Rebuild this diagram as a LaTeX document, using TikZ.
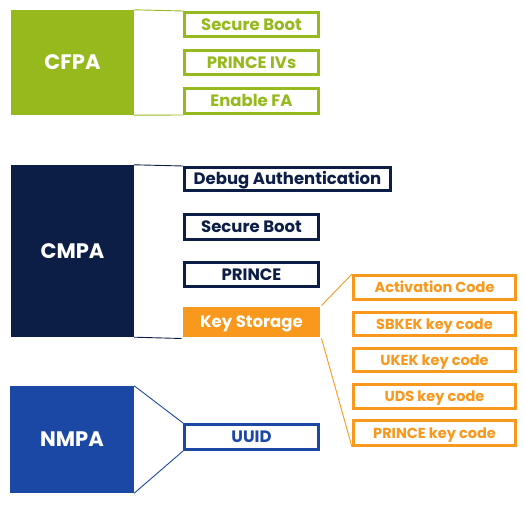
\documentclass[tikz,border=0pt]{standalone}
\usepackage{fontspec}
\setmainfont{Poppins}
\definecolor{cgreen}{RGB}{150,185,30}
\definecolor{cnavy}{RGB}{12,30,70}
\definecolor{cblue}{RGB}{28,72,165}
\definecolor{corange}{RGB}{248,152,29}
\begin{document}
\begin{tikzpicture}[x=1pt,y=-1pt,
  group/.style={rectangle, inner sep=0pt, text=white, text height=14.5pt, text depth=0pt, font=\bfseries\fontsize{21}{21}\selectfont},
  item/.style={rectangle, draw, line width=3pt, fill=white, inner sep=0pt, minimum height=24pt, text height=11.5pt, text depth=0pt, font=\bfseries\fontsize{16.5}{16.5}\selectfont},
  sub/.style={item, draw=corange, text=corange, minimum width=162pt, text height=10pt, font=\bfseries\fontsize{14.5}{14.5}\selectfont},
  link/.style={line width=0.9pt}]
\useasboundingbox (0,0) rectangle (523,529);
% CFPA
\node[group, fill=cgreen, minimum width=123pt, minimum height=105pt] (cfpa) at (72.5,62.5) {CFPA};
\node[item, draw=cgreen, text=cgreen, minimum width=134pt] (cf1) at (251.5,24.5) {Secure Boot};
\node[item, draw=cgreen, text=cgreen, minimum width=134pt] (cf2) at (251.5,62.5) {PRINCE IVs};
\node[item, draw=cgreen, text=cgreen, minimum width=134pt, minimum height=25pt] (cf3) at (251.5,101) {Enable FA};
\draw[link, cgreen] (cfpa.north east) -- (cf1.north west);
\draw[link, cgreen] (cfpa.south east) -- (cf3.south west);
% CMPA
\node[group, fill=cnavy, minimum width=123pt, minimum height=172pt] (cmpa) at (72.5,251) {CMPA};
\node[item, draw=cnavy, text=cnavy, minimum width=206pt, minimum height=23pt] (cm1) at (287.5,179) {Debug Authentication};
\node[item, draw=cnavy, text=cnavy, minimum width=134pt, minimum height=25pt] (cm2) at (251.5,227) {Secure Boot};
\node[item, draw=cnavy, text=cnavy, minimum width=134pt] (cm3) at (251.5,274.5) {PRINCE};
\node[item, draw=none, fill=corange, text=white, minimum width=137pt, minimum height=30pt] (ks) at (251.5,322) {Key Storage};
\draw[link, cnavy] (cmpa.north east) -- (cm1.north west);
\draw[link, cnavy] (cmpa.south east) -- (ks.south west);
% Key storage items
\node[sub] (k1) at (434.5,287.5) {Activation Code};
\node[sub, minimum height=23pt] (k2) at (434.5,324) {SBKEK key code};
\node[sub, minimum height=23pt] (k3) at (434.5,360) {UKEK key code};
\node[sub] (k4) at (434.5,396.5) {UDS key code};
\node[sub, minimum height=25pt] (k5) at (434.5,433) {PRINCE key code};
\draw[link, corange] (ks.north east) -- (k1.north west);
\draw[link, corange] (ks.south east) -- (k5.south west);
% NMPA
\node[group, fill=cblue, minimum width=124pt, minimum height=107pt] (nmpa) at (72,439.5) {NMPA};
\node[item, draw=cblue, text=cblue, minimum width=134pt, minimum height=25pt] (uuid) at (251.5,437) {UUID};
\draw[link, cblue] (nmpa.north east) -- (uuid.north west);
\draw[link, cblue] (nmpa.south east) -- (uuid.south west);
\end{tikzpicture}
\end{document}
